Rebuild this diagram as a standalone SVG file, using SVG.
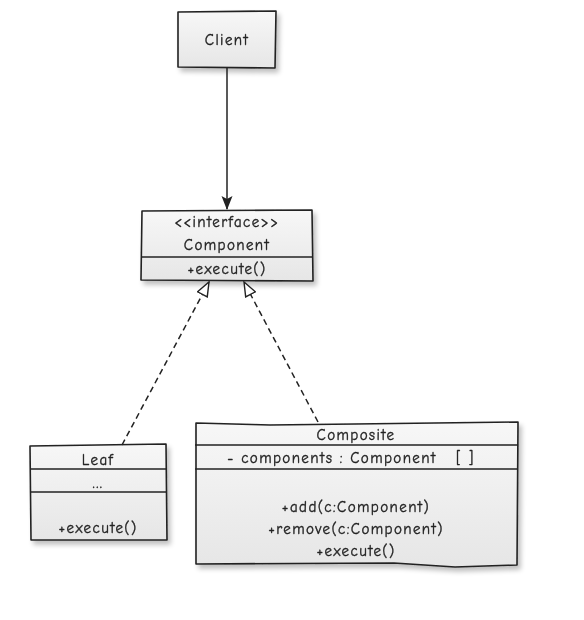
<svg xmlns="http://www.w3.org/2000/svg" width="584" height="620" viewBox="0 0 584 620">
<defs>
<linearGradient id="g" x1="0" y1="0" x2="0" y2="1">
<stop offset="0" stop-color="#f7f7f7"/>
<stop offset="1" stop-color="#e6e6e6"/>
</linearGradient>
<filter id="sh" x="-10%" y="-10%" width="130%" height="140%">
<feGaussianBlur in="SourceAlpha" stdDeviation="2.5"/>
<feOffset dx="3" dy="4" result="b"/>
<feComponentTransfer><feFuncA type="linear" slope="0.25"/></feComponentTransfer>
<feMerge><feMergeNode/><feMergeNode in="SourceGraphic"/></feMerge>
</filter>
<marker id="filled" viewBox="0 0 14 12" refX="13" refY="6" markerWidth="14" markerHeight="12" markerUnits="userSpaceOnUse" orient="auto">
<path d="M0,0.5 L14,6 L0,11.5 L3,6 Z" fill="#222"/>
</marker>
<marker id="hollow" viewBox="0 0 16 13" refX="15" refY="6.5" markerWidth="16" markerHeight="13" markerUnits="userSpaceOnUse" orient="auto">
<path d="M1,1 L15,6.5 L1,12 Z" fill="#fff" stroke="#222" stroke-width="1.4"/>
</marker>
</defs>
<style>
.box{fill:url(#g);stroke:#222;stroke-width:1.6;stroke-linejoin:round}
.div{stroke:#222;stroke-width:1.5;fill:none}
text{font-family:"Comic Neue","Open Sans","Liberation Sans",sans-serif;font-size:15px;letter-spacing:1.4px;fill:#222;stroke:#222;stroke-width:0.35;text-anchor:middle}
.con{stroke:#222;stroke-width:1.5;fill:none}
.dash{stroke-dasharray:6,4}
</style>
<g id="client" filter="url(#sh)">
<path class="box" d="M178,12 L276,11 L275,68 L178,67 Z"/>
<text x="227" y="45">Client</text>
</g>
<g id="component" filter="url(#sh)">
<path class="box" d="M142,211 L312,210 L313,281 L141,280 Z"/>
<path class="div" d="M141,257 L313,257"/>
<text x="227" y="227">&lt;&lt;interface&gt;&gt;</text>
<text x="227" y="250">Component</text>
<text x="227" y="274">+execute()</text>
</g>
<g id="leaf" filter="url(#sh)">
<path class="box" d="M30,446 L166,444 L167,540 L31,540 Z"/>
<path class="div" d="M30,469 L167,469"/>
<path class="div" d="M30,492 L167,492"/>
<text x="98" y="465">Leaf</text>
<text x="98" y="488">...</text>
<text x="98" y="533">+execute()</text>
</g>
<g id="composite" filter="url(#sh)">
<path class="box" d="M196,423 L270,425 L355,424 L518,422 L517,565 L455,567 L394,563 L196,564 Z"/>
<path class="div" d="M195,445 L518,445"/>
<path class="div" d="M195,469 L518,469"/>
<text x="356" y="440">Composite</text>
<text x="351" y="463">- components : Component&#160;&#160;&#160;[ ]</text>
<text x="356" y="512">+add(c:Component)</text>
<text x="356" y="534">+remove(c:Component)</text>
<text x="356" y="556">+execute()</text>
</g>
<g id="connectors">
<path class="con" d="M227,68 L227,209" marker-end="url(#filled)"/>
<path class="con dash" d="M122,445 L209,282" marker-end="url(#hollow)"/>
<path class="con dash" d="M318,422 L244,282" marker-end="url(#hollow)"/>
</g>
</svg>
